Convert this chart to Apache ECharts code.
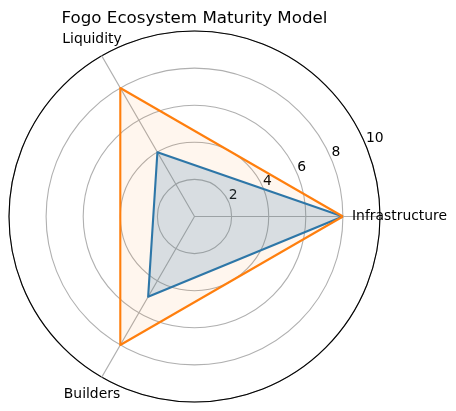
<!DOCTYPE html>
<html>
<head>
<meta charset="utf-8">
<script src="https://cdn.jsdelivr.net/npm/echarts@6/dist/echarts.min.js"></script>
<style>html,body{margin:0;padding:0;background:#fff}#c{width:456px;height:411px}</style>
</head>
<body>
<div id="c"></div>
<script>
const categories = ['Infrastructure', 'Liquidity', 'Builders'];
const seriesA = [8, 4, 5];
const seriesB = [8, 8, 8];
const radialTicks = [0, 2, 4, 6, 8, 10];
const rMax = 10;

const FONT = 'DejaVu Sans';
const CX = 194.5, CY = 216.5, R = 185.5;

const chart = echarts.init(document.getElementById('c'), null, {renderer: 'canvas'});

const labelData = categories.map((name, i) => ({
  name: name,
  value: [1, i * 360 / categories.length]
}));

const option = {
  animation: false,
  backgroundColor: '#fff',
  title: {
    text: 'Fogo Ecosystem Maturity Model',
    left: CX, top: 10, padding: 0,
    textAlign: 'center',
    textStyle: {fontFamily: FONT, fontSize: 16.7, fontWeight: 'normal', color: '#000'}
  },
  radar: {
    center: [CX, CY],
    radius: R,
    startAngle: 0,
    shape: 'circle',
    splitNumber: 5,
    indicator: categories.map(n => ({name: n, min: 0, max: rMax})),
    axisName: {show: false},
    axisLabel: {show: false},
    axisTick: {show: false},
    axisLine: {lineStyle: {color: '#b0b0b0', width: 1.1}},
    splitLine: {lineStyle: {color: '#b0b0b0', width: 1.1}},
    splitArea: {show: false}
  },
  polar: [
    {center: [CX, CY], radius: R},
    {center: [CX, CY], radius: 205}
  ],
  angleAxis: [
    {
      polarIndex: 0, type: 'value', min: 0, max: 360, startAngle: 22.5, clockwise: false,
      axisLine: {show: true, lineStyle: {color: '#000', width: 1.1}},
      axisTick: {show: false}, axisLabel: {show: false}, splitLine: {show: false}
    },
    {
      polarIndex: 1, type: 'value', min: 0, max: 360, startAngle: 0, clockwise: false, show: false
    }
  ],
  radiusAxis: [
    {
      polarIndex: 0, type: 'value', min: radialTicks[0], max: radialTicks[radialTicks.length - 1], interval: 2,
      axisLine: {show: false}, axisTick: {show: false}, splitLine: {show: false},
      axisLabel: {
        show: true, margin: 0, align: 'left', verticalAlign: 'bottom',
        fontFamily: FONT, fontSize: 13.9, color: '#000',
        formatter: v => (v === 0 ? '' : String(v))
      }
    },
    {polarIndex: 1, type: 'value', min: 0, max: 1, show: false}
  ],
  series: [
    {
      type: 'radar',
      symbol: 'none',
      data: [
        {value: seriesA, lineStyle: {color: '#1f77b4', width: 2.1}, areaStyle: {color: 'rgba(31,119,180,0.27)'}},
        {value: seriesB, lineStyle: {color: '#ff7f0e', width: 2.1}, areaStyle: {color: 'rgba(255,127,14,0.1)'}}
      ]
    },
    {
      type: 'scatter',
      coordinateSystem: 'polar',
      polarIndex: 1,
      symbolSize: 1,
      silent: true,
      itemStyle: {color: 'rgba(255,255,255,0)'},
      data: labelData,
      label: {
        show: true, position: 'inside', formatter: p => p.name,
        fontFamily: FONT, fontSize: 13.9, color: '#000',
        textBorderWidth: 0, textShadowBlur: 0, opacity: 1
      }
    }
  ]
};
chart.setOption(option);
</script>
</body>
</html>
